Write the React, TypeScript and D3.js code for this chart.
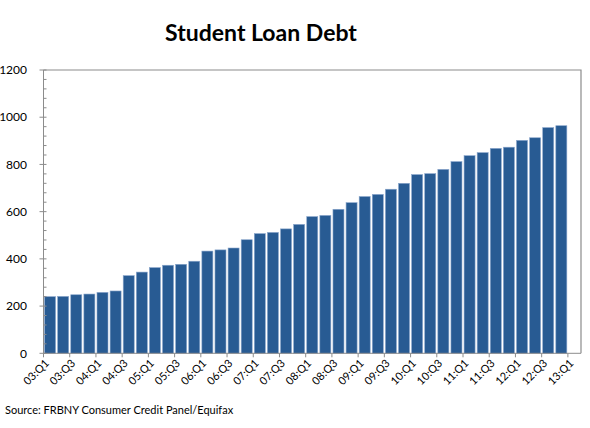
import { useEffect, useRef } from 'react'
import * as d3 from 'd3'

// quarters on the category axis (last one has no data yet)
const quarters = [
  '03:Q1', '03:Q2', '03:Q3', '03:Q4', '04:Q1', '04:Q2', '04:Q3', '04:Q4',
  '05:Q1', '05:Q2', '05:Q3', '05:Q4', '06:Q1', '06:Q2', '06:Q3', '06:Q4',
  '07:Q1', '07:Q2', '07:Q3', '07:Q4', '08:Q1', '08:Q2', '08:Q3', '08:Q4',
  '09:Q1', '09:Q2', '09:Q3', '09:Q4', '10:Q1', '10:Q2', '10:Q3', '10:Q4',
  '11:Q1', '11:Q2', '11:Q3', '11:Q4', '12:Q1', '12:Q2', '12:Q3', '12:Q4',
  '13:Q1',
]

// student loan debt, billions of dollars
const debt = [
  240, 241, 248, 251, 258, 264, 329, 344, 363, 373, 377, 390,
  433, 438, 446, 481, 507, 512, 527, 546, 579, 584, 610, 638,
  664, 673, 695, 720, 757, 761, 779, 812, 837, 850, 868, 873,
  902, 913, 956, 964,
]

const tickLabels = [
  '03:Q1', '03:Q3', '04:Q1', '04:Q3', '05:Q1', '05:Q3', '06:Q1', '06:Q3',
  '07:Q1', '07:Q3', '08:Q1', '08:Q3', '09:Q1', '09:Q3', '10:Q1', '10:Q3',
  '11:Q1', '11:Q3', '12:Q1', '12:Q3', '13:Q1',
]

const yTicks = [0, 200, 400, 600, 800, 1000, 1200]

const W = 590
const H = 428

export default function App() {
  const svgRef = useRef<SVGSVGElement>(null)

  useEffect(() => {
    if (!svgRef.current) return
    const svg = d3.select(svgRef.current)
    svg.selectAll('*').remove()

    const left = 43.5
    const right = 581
    const top = 70
    const bottom = 353.3
    const font = 'Lato, "Open Sans", sans-serif'
    const axisColor = '#8c8c8c'

    const x = d3.scaleBand<string>()
      .domain(quarters)
      .range([left, right])
      .paddingInner(0.16)
      .paddingOuter(0.08)
    const step = x.step()

    const y = d3.scaleLinear().domain([0, 1200]).range([bottom, top])

    // title
    svg.append('text')
      .attr('x', 261)
      .attr('y', 41)
      .attr('text-anchor', 'middle')
      .attr('font-family', font)
      .attr('font-weight', 700)
      .attr('font-size', 23)
      .attr('fill', '#000')
      .text('Student Loan Debt')

    // plot box (top + right)
    svg.append('path')
      .attr('d', `M${left},${top}H${right}V${bottom}`)
      .attr('fill', 'none')
      .attr('stroke', axisColor)
      .attr('stroke-width', 1.2)

    // bars
    svg.append('g')
      .selectAll('rect')
      .data(debt)
      .join('rect')
      .attr('x', (_, i) => x(quarters[i])!)
      .attr('y', d => y(d))
      .attr('width', x.bandwidth())
      .attr('height', d => bottom - y(d))
      .attr('fill', '#285b93')
      .attr('stroke', '#8aa6cc')
      .attr('stroke-width', 0.6)

    // y axis
    const ya = svg.append('g')
    ya.append('line')
      .attr('x1', left).attr('x2', left)
      .attr('y1', top).attr('y2', bottom)
      .attr('stroke', axisColor)
    d3.range(0, 1201, 40).forEach(v => {
      const major = v % 200 === 0
      ya.append('line')
        .attr('x1', major ? left - 4 : left)
        .attr('x2', left + 3)
        .attr('y1', y(v)).attr('y2', y(v))
        .attr('stroke', axisColor)
    })
    ya.selectAll('text')
      .data(yTicks)
      .join('text')
      .attr('x', 27)
      .attr('y', d => y(d))
      .attr('dy', '0.35em')
      .attr('text-anchor', 'end')
      .attr('font-family', font)
      .attr('font-size', 12)
      .attr('fill', '#000')
      .text(d => d)

    // x axis
    const xa = svg.append('g')
    xa.append('line')
      .attr('x1', left).attr('x2', right)
      .attr('y1', bottom).attr('y2', bottom)
      .attr('stroke', axisColor)
    tickLabels.forEach((lab, k) => {
      const bx = left + k * 2 * step
      xa.append('line')
        .attr('x1', bx).attr('x2', bx)
        .attr('y1', bottom).attr('y2', bottom + 4)
        .attr('stroke', axisColor)
      const cx = x(lab)! + x.bandwidth() / 2 - 3
      xa.append('text')
        .attr('transform', `translate(${cx},${bottom + 8}) rotate(-45)`)
        .attr('dy', '0.35em')
        .attr('text-anchor', 'end')
        .attr('font-family', font)
        .attr('font-size', 11)
        .attr('fill', '#000')
        .text(lab)
    })

    // source note
    svg.append('text')
      .attr('x', 5)
      .attr('y', 414)
      .attr('font-family', font)
      .attr('font-size', 11)
      .attr('fill', '#000')
      .text('Source: FRBNY Consumer Credit Panel/Equifax')
  }, [])

  return (
    <svg
      ref={svgRef}
      width={W}
      height={H}
      style={{ position: 'absolute', left: 0, top: 0, background: '#fff' }}
    />
  )
}
